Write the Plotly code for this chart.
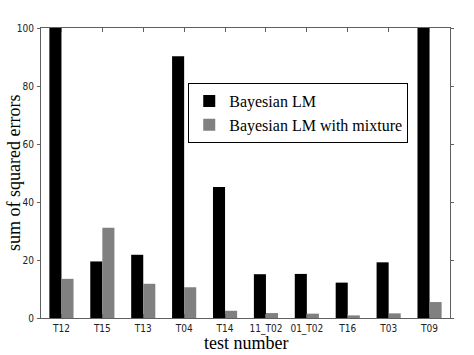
import plotly.graph_objects as go

categories = ["T12", "T15", "T13", "T04", "T14", "11_T02", "01_T02", "T16", "T03", "T09"]
bayesian_lm = [100, 19.5, 21.8, 90.3, 45.2, 15.1, 15.2, 12.2, 19.2, 100]
bayesian_lm_mixture = [13.5, 31.1, 11.8, 10.6, 2.5, 1.7, 1.5, 0.9, 1.6, 5.5]
y_ticks = [0, 20, 40, 60, 80, 100]

fig = go.Figure()
fig.add_trace(go.Bar(x=categories, y=bayesian_lm, name="Bayesian LM",
                     marker=dict(color="#000000", line=dict(width=0))))
fig.add_trace(go.Bar(x=categories, y=bayesian_lm_mixture, name="Bayesian LM with mixture",
                     marker=dict(color="#808080", line=dict(width=0))))

axis_col = "#606060"
serif = "Liberation Serif, Times New Roman, serif"
sans = "Liberation Sans Narrow, DejaVu Sans Condensed, Liberation Sans, Arial, sans-serif"
fig.update_layout(
    width=474, height=355,
    margin=dict(l=41, r=24, t=28, b=37),
    paper_bgcolor="white", plot_bgcolor="white",
    barmode="group", bargap=0.41, bargroupgap=0,
    showlegend=True,
    legend=dict(x=0.36, y=0.81, xanchor="left", yanchor="top",
                bordercolor="#000000", borderwidth=1, bgcolor="white",
                font=dict(family=serif, size=16, color="black"),
                itemwidth=30, tracegroupgap=0),
    xaxis=dict(
        type="category", range=[-0.5, 9.5], automargin=False,
        showline=True, linecolor=axis_col, linewidth=1, mirror="ticks",
        ticks="inside", ticklen=4, tickcolor=axis_col,
        showgrid=False, zeroline=False, ticklabelstandoff=1,
        tickfont=dict(family=sans, size=10, color="#222"),
    ),
    yaxis=dict(
        range=[0, 100], tickvals=y_ticks, automargin=False,
        showline=True, linecolor=axis_col, linewidth=1, mirror="ticks",
        ticks="outside", ticklen=3, tickcolor=axis_col,
        showgrid=False, zeroline=False, ticklabelstandoff=1,
        tickfont=dict(family=sans, size=10, color="#222"),
    ),
    annotations=[
        dict(text="test number", xref="paper", yref="paper", x=0.5, y=-0.087,
             xanchor="center", yanchor="middle", showarrow=False,
             font=dict(family=serif, size=18, color="black")),
        dict(text="sum of squared errors", xref="paper", yref="paper", x=-0.066, y=0.5,
             xanchor="center", yanchor="middle", textangle=-90, showarrow=False,
             font=dict(family=serif, size=18, color="black")),
    ],
)

fig.write_html("out.html")
